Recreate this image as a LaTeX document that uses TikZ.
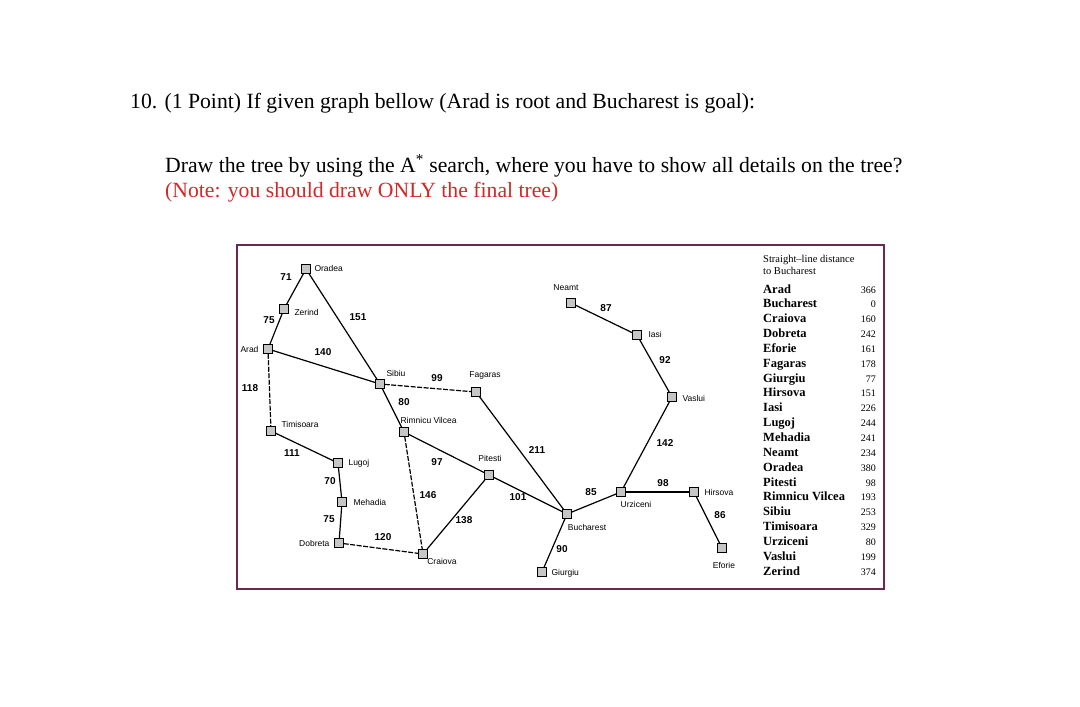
\documentclass[tikz,border=0pt]{standalone}
\usepackage{fontspec}
\setmainfont{Liberation Serif}
\newfontfamily\mapf{Liberation Sans}
\begin{document}
\begin{tikzpicture}[x=1pt,y=-1pt,
  city/.style={draw,fill=gray!45,minimum size=8.5pt,inner sep=0pt,line width=1pt},
  road/.style={line width=1.2pt},
  dd/.style={road,dash pattern=on 5pt off 1.5pt},
  nl/.style={font=\mapf\fontsize{8.5}{9}\selectfont},
  el/.style={font=\mapf\bfseries\fontsize{10}{11}\selectfont},
  tn/.style={font=\bfseries\fontsize{12.5}{13}\selectfont,anchor=base west},
  tv/.style={font=\fontsize{10}{11}\selectfont,anchor=base east}]
\useasboundingbox (0,0) rectangle (1080,707);
\node[anchor=base west,font=\fontsize{21.7}{24}\selectfont,inner sep=0] (t1) at (130,108) {10. (1 Point) If given graph bellow (Arad is root and Bucharest is goal):};
\node[anchor=base west,font=\fontsize{21.7}{24}\selectfont,inner sep=0] (t2) at (165,172) {Draw the tree by using the A\textsuperscript{*} search, where you have to show all details on the tree?};
\node[anchor=base west,font=\fontsize{21.7}{24}\selectfont,inner sep=0,text={rgb,255:red,210;green,40;blue,40}] (t3) at (165,197) {(Note: you should draw ONLY the final tree)};
\draw[line width=1.6pt,draw={rgb,255:red,110;green,40;blue,80}] (237,245) rectangle (884,589);
% cities
\node[city] (Or) at (306,269) {};
\node[city] (Ze) at (284,309) {};
\node[city] (Ar) at (268,349) {};
\node[city] (Si) at (380,384) {};
\node[city] (Fa) at (476,392) {};
\node[city] (Ri) at (404,432) {};
\node[city] (Ti) at (271,431) {};
\node[city] (Lu) at (338,463) {};
\node[city] (Pi) at (489,475) {};
\node[city] (Me) at (342,502) {};
\node[city] (Do) at (339,543) {};
\node[city] (Cr) at (423,554) {};
\node[city] (Ne) at (571,303) {};
\node[city] (Ia) at (637,335) {};
\node[city] (Va) at (672,397) {};
\node[city] (Ur) at (621,492) {};
\node[city] (Hi) at (694,492) {};
\node[city] (Bu) at (567,514) {};
\node[city] (Ef) at (722,548) {};
\node[city] (Gi) at (542,572) {};
% roads
\draw[road] (Or)--(Ze); \draw[road] (Ze)--(Ar); \draw[road] (Or)--(Si);
\draw[road] (Ar)--(Si); \draw[dd] (Ar)--(Ti); \draw[dd] (Si)--(Fa);
\draw[road] (Si)--(Ri); \draw[road] (Ti)--(Lu); \draw[road] (Lu)--(Me);
\draw[road] (Me)--(Do); \draw[dd] (Do)--(Cr); \draw[dd] (Ri)--(Cr);
\draw[road] (Ri)--(Pi); \draw[road] (Pi)--(Cr); \draw[road] (Pi)--(Bu);
\draw[road] (Fa)--(Bu); \draw[road] (Bu)--(Gi); \draw[road] (Bu)--(Ur);
\draw[road] (Ur)--(Va); \draw[road] (Va)--(Ia); \draw[road] (Ia)--(Ne);
\draw[road] (Ur)--(Hi); \draw[road] (Hi)--(Ef);
% city names
\node[nl,anchor=west] at (311,268) {Oradea};
\node[nl,anchor=west] at (291,312) {Zerind};
\node[nl,anchor=east] at (262,349) {Arad};
\node[nl] at (396,373) {Sibiu};
\node[nl] at (485,375) {Fagaras};
\node[nl,anchor=west] at (397,420) {Rimnicu Vilcea};
\node[nl,anchor=west] at (278,424) {Timisoara};
\node[nl,anchor=west] at (345,463) {Lugoj};
\node[nl] at (490,458) {Pitesti};
\node[nl,anchor=west] at (350,502) {Mehadia};
\node[nl,anchor=east] at (333,543) {Dobreta};
\node[nl] at (442,561) {Craiova};
\node[nl] at (566,288) {Neamt};
\node[nl,anchor=west] at (645,334) {Iasi};
\node[nl,anchor=west] at (679,398) {Vaslui};
\node[nl] at (636,504) {Urziceni};
\node[nl,anchor=west] at (701,492) {Hirsova};
\node[nl] at (587,527) {Bucharest};
\node[nl] at (724,565) {Eforie};
\node[nl,anchor=west] at (548,573) {Giurgiu};
% distances
\node[el] at (286,277) {71}; \node[el] at (269,320) {75}; \node[el] at (358,317) {151};
\node[el] at (323,352) {140}; \node[el] at (250,388) {118}; \node[el] at (437,378) {99};
\node[el] at (404,402) {80}; \node[el] at (292,453) {111}; \node[el] at (330,481) {70};
\node[el] at (428,495) {146}; \node[el] at (437,462) {97}; \node[el] at (464,520) {138};
\node[el] at (329,519) {75}; \node[el] at (383,537) {120}; \node[el] at (537,450) {211};
\node[el] at (518,497) {101}; \node[el] at (606,308) {87}; \node[el] at (665,360) {92};
\node[el] at (665,443) {142}; \node[el] at (591,492) {85}; \node[el] at (663,483) {98};
\node[el] at (720,515) {86}; \node[el] at (562,549) {90};
% table
\node[anchor=base west,font=\fontsize{10.5}{11}\selectfont,inner sep=0] (h1) at (763,262) {Straight--line distance};
\node[anchor=base west,font=\fontsize{10.5}{11}\selectfont,inner sep=0] (h2) at (763,274) {to Bucharest};
\foreach \n/\v [count=\i from 0] in {Arad/366,Bucharest/0,Craiova/160,Dobreta/242,Eforie/161,Fagaras/178,Giurgiu/77,Hirsova/151,Iasi/226,Lugoj/244,Mehadia/241,Neamt/234,Oradea/380,Pitesti/98,Rimnicu Vilcea/193,Sibiu/253,Timisoara/329,Urziceni/80,Vaslui/199,Zerind/374}{
  \node[tn,inner sep=0] at (763,{293+14.85*\i}) {\n};
  \node[tv,inner sep=0] at (876,{293+14.85*\i}) {\v};
}
\end{tikzpicture}
\end{document}
